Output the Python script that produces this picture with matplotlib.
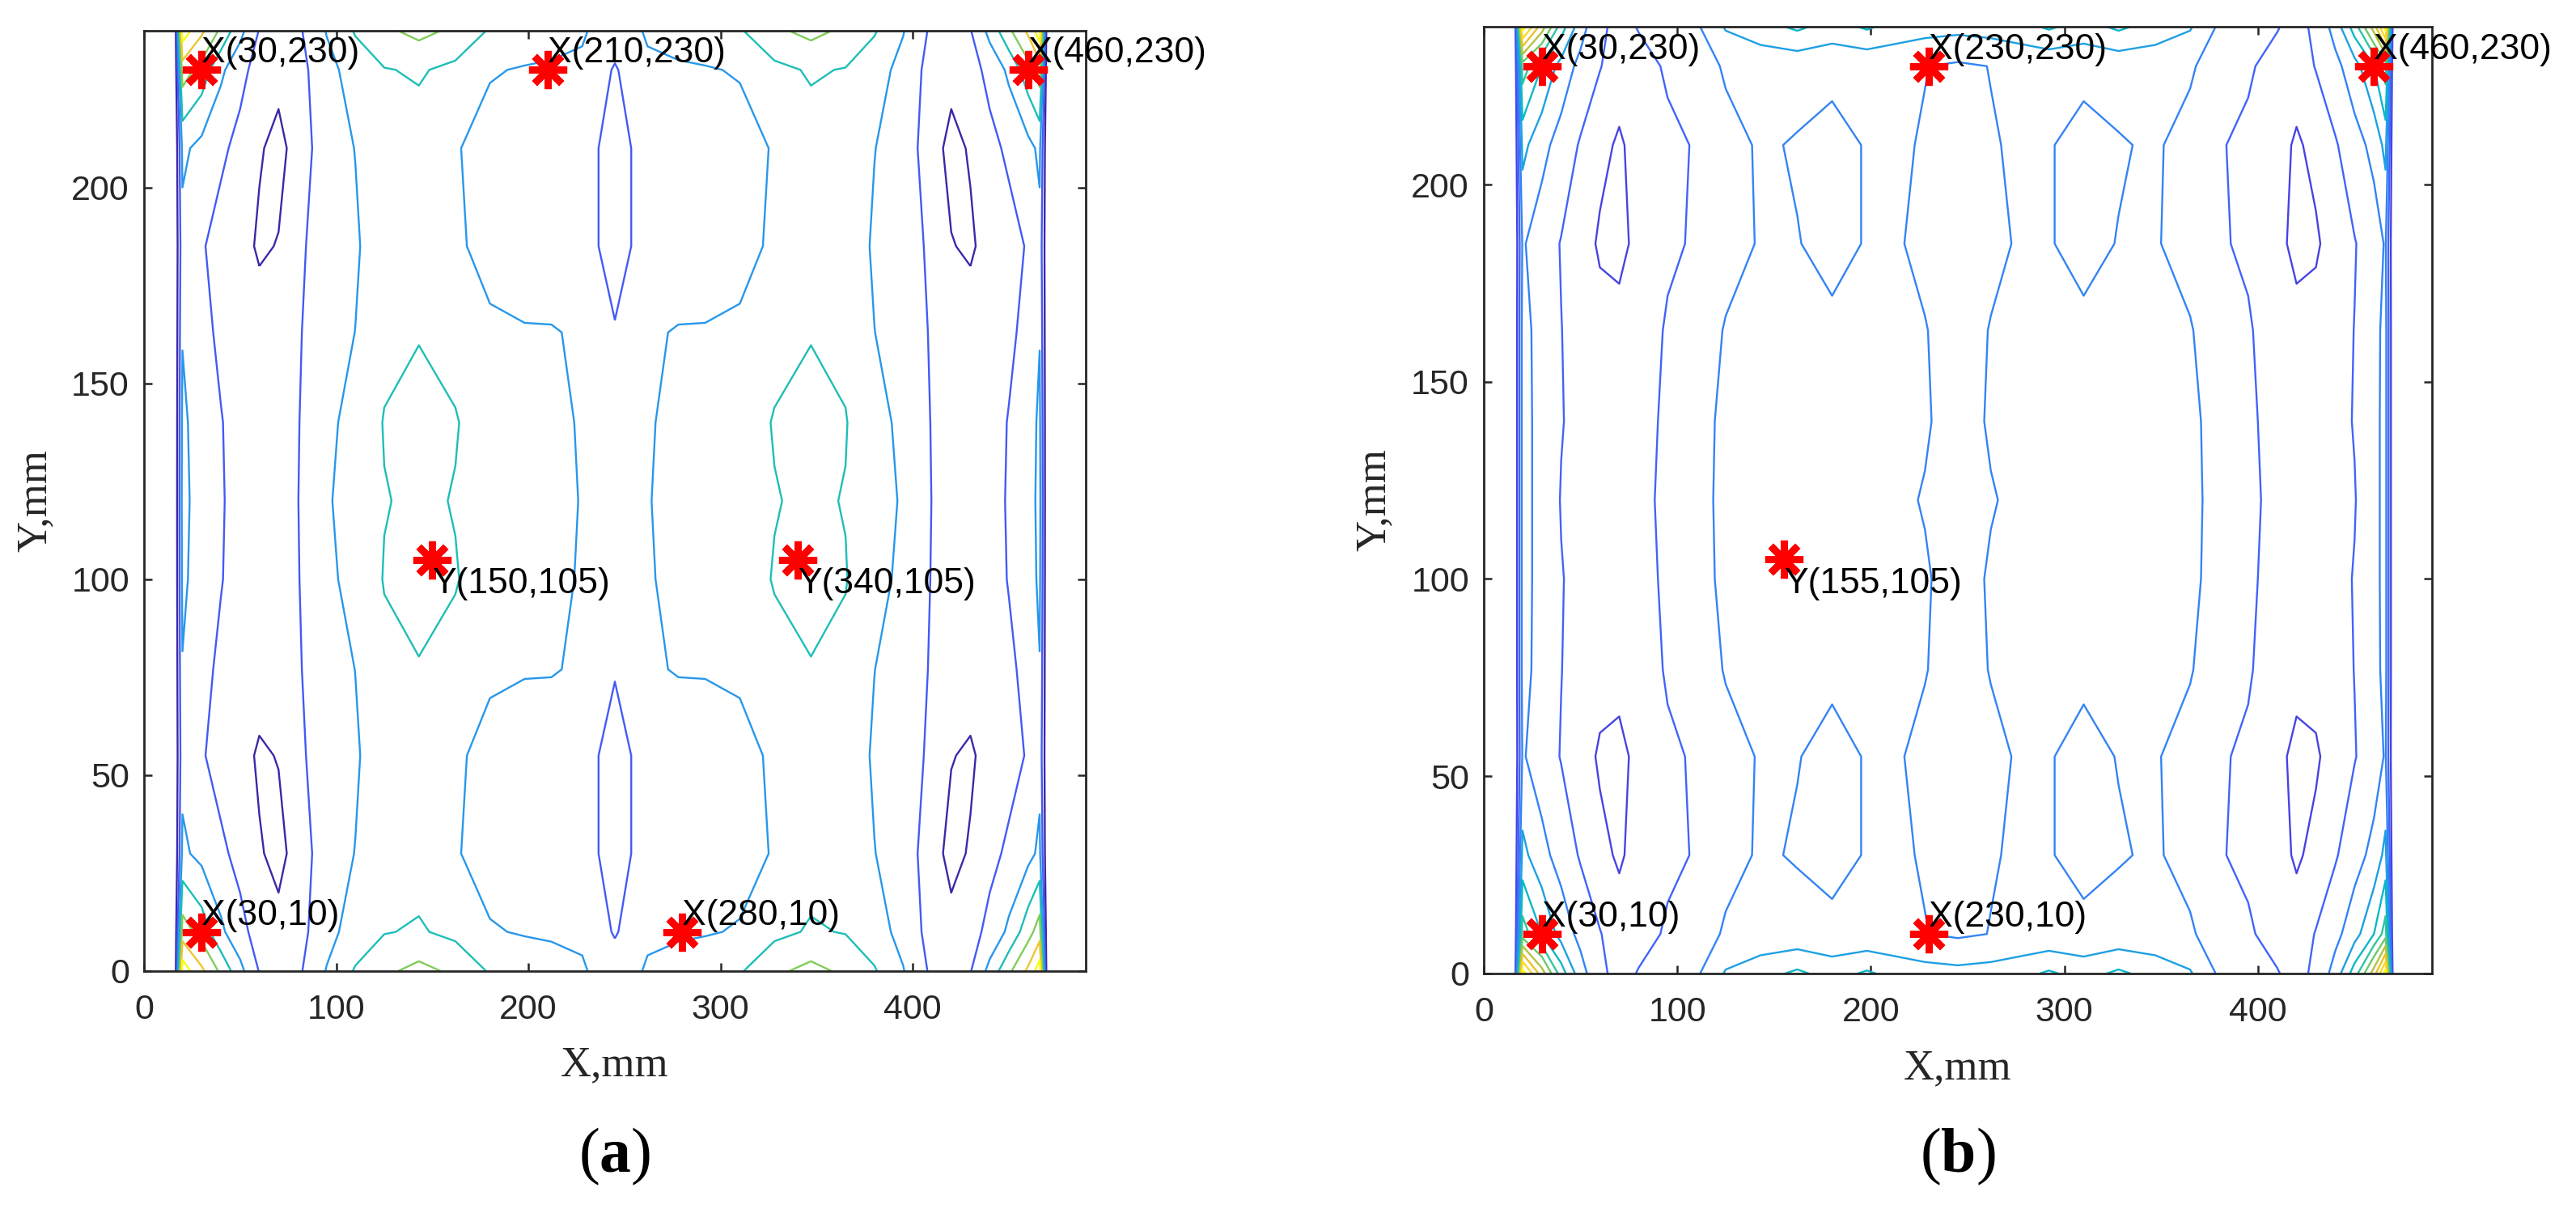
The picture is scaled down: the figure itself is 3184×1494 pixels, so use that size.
import numpy as np
import matplotlib
matplotlib.use('Agg')
import matplotlib.pyplot as plt
from matplotlib.colors import LinearSegmentedColormap

# grid nodes in mm (left half + right half, bottom half + top half)
x_left = [16, 20, 30, 40, 50, 60, 70, 80, 95, 110, 125, 143, 162, 180, 198, 212, 228, 245]
x_right = [262, 278, 292, 310, 328, 347, 365, 380, 395, 410, 420, 430, 440, 450, 460, 466, 470]
y_low = [0, 10, 30, 55, 77, 100, 120]
y_high = [140, 163, 185, 210, 230, 240]

# field values, one quarter each (rows = y_low, cols = x_left)
za_quarter = [
    [0, 7.6, 6.2, 4.8, 3.3, 1.95, 1.6, 1.8, 3.05, 4.1, 4.8, 5.3, 4.8, 3.9, 3.4, 3.3, 3.1, 2.5],
    [0, 5.5, 4.6, 3.2, 2.3, 1.6, 1.3, 1.6, 2.7, 3.4, 3.95, 4.1, 3.75, 3.05, 2.95, 2.9, 2.85, 1.9],
    [0, 3.2, 2.7, 2.2, 1.7, 1.1, 0.7, 1.4, 2.6, 3.02, 3.5, 3.6, 3.05, 2.75, 2.6, 2.5, 2.3, 1.7],
    [0, 2.7, 2.1, 1.6, 1.4, 0.85, 1.05, 1.8, 2.5, 2.9, 3.5, 3.7, 3.1, 2.8, 2.6, 2.5, 2.3, 1.7],
    [0, 2.95, 2.3, 1.8, 1.5, 1.5, 1.5, 1.9, 2.6, 3.01, 3.75, 3.95, 3.75, 3.1, 3.05, 3.05, 2.9, 2.05],
    [0, 3.2, 2.5, 2.05, 1.6, 1.5, 1.6, 1.95, 2.8, 3.3, 4.05, 4.3, 4.05, 3.6, 3.35, 3.2, 2.93, 2.3],
    [0, 3.3, 2.5, 2.1, 1.6, 1.5, 1.7, 1.98, 2.9, 3.4, 3.96, 4.15, 3.96, 3.6, 3.35, 3.2, 2.97, 2.4],
]
zb_quarter = [
    [0, 11.5, 8.5, 5.5, 3.4, 2.2, 1.7, 2.05, 2.5, 2.85, 4.1, 4.6, 5.2, 4.6, 5.15, 4.7, 4.4, 4.3],
    [0, 6.5, 5.0, 3.6, 2.7, 2.05, 1.5, 1.7, 2.1, 2.6, 3.1, 3.3, 3.25, 3.2, 3.15, 3.12, 3.02, 2.85],
    [0, 4.3, 3.3, 2.6, 1.9, 1.3, 0.85, 1.4, 1.85, 2.05, 2.75, 3.08, 2.95, 2.75, 3.05, 3.1, 2.95, 2.7],
    [0, 3.1, 2.5, 1.95, 1.5, 0.85, 0.7, 1.3, 1.85, 2.1, 2.75, 3.05, 3.02, 2.85, 3.03, 3.05, 2.9, 2.75],
    [0, 3.3, 2.65, 2.02, 1.6, 1.4, 1.35, 1.5, 2.1, 2.6, 3.05, 3.25, 3.2, 3.1, 3.15, 3.1, 3.02, 2.8],
    [0, 3.3, 2.7, 2.05, 1.7, 1.55, 1.55, 1.7, 2.15, 2.75, 3.15, 3.3, 3.3, 3.3, 3.25, 3.15, 3.05, 2.8],
    [0, 3.3, 2.7, 1.95, 1.7, 1.55, 1.55, 1.75, 2.2, 2.8, 3.15, 3.3, 3.3, 3.3, 3.25, 3.1, 2.97, 2.85],
]

levels_a = [1, 2, 3, 4, 5, 6, 7]
levels_b = [1, 2, 3, 4, 5, 6, 7, 8, 9, 10, 11]

# measuring points
pa_x = [30, 210, 460, 30, 280, 150, 340]
pa_y = [230, 230, 230, 10, 10, 105, 105]
pa_lbl = ['X(30,230)', 'X(210,230)', 'X(460,230)', 'X(30,10)', 'X(280,10)', 'Y(150,105)', 'Y(340,105)']
pb_x = [30, 230, 460, 30, 230, 155]
pb_y = [230, 230, 230, 10, 10, 105]
pb_lbl = ['X(30,230)', 'X(230,230)', 'X(460,230)', 'X(30,10)', 'X(230,10)', 'Y(155,105)']

# parula-like colormap
parula10 = [(0.2422, 0.1504, 0.6603), (0.2803, 0.2782, 0.9221), (0.2440, 0.4358, 0.9988),
            (0.1540, 0.5902, 0.9218), (0.0297, 0.7082, 0.8163), (0.1938, 0.7758, 0.6251),
            (0.5044, 0.7993, 0.3480), (0.8634, 0.7406, 0.1596), (0.9892, 0.8136, 0.1885),
            (0.9769, 0.9839, 0.0805)]
parula = LinearSegmentedColormap.from_list('parula', parula10)
colors_a = [parula((k - 1) / 6) for k in levels_a]
colors_b = [parula(0.1 + 0.09 * (k - 1)) for k in levels_b]

plt.rcParams['font.family'] = 'Liberation Sans'
plt.rcParams['mathtext.fontset'] = 'custom'
plt.rcParams['mathtext.rm'] = 'Liberation Serif'
plt.rcParams['mathtext.bf'] = 'Liberation Serif:bold'


def full_grid(q):
    # mirror the quarter in x and in y
    q = np.array(q, dtype=float)
    q = np.hstack([q, q[:, -2::-1]])
    q = np.vstack([q, q[-2::-1, :]])
    return q


X, Y = np.meshgrid(x_left + x_right, y_low + y_high)
axcol = (0.15, 0.15, 0.15)

fig = plt.figure(figsize=(15.92, 7.47), dpi=200)
ax_a = fig.add_axes([0.0559, 0.1968, 0.3656, 0.7778])
ax_b = fig.add_axes([0.5760, 0.1948, 0.3681, 0.7831])

panels = [(ax_a, za_quarter, levels_a, colors_a, pa_x, pa_y, pa_lbl),
          (ax_b, zb_quarter, levels_b, colors_b, pb_x, pb_y, pb_lbl)]

for ax, zq, lev, cols, px, py, lbls in panels:
    Z = full_grid(zq)
    ax.contour(X, Y, Z, levels=lev, colors=cols, linewidths=0.85)
    ax.plot(px, py, linestyle='none', marker=(8, 2, 0), ms=17, mew=3.2,
            color='#ff0000', zorder=5)
    for x, y, s in zip(px, py, lbls):
        if s.startswith('X'):
            ax.text(x, y, s, ha='left', va='bottom', fontsize=16, color='black', zorder=6)
        else:
            ax.text(x, y - 2, s, ha='left', va='top', fontsize=16, color='black', zorder=6)

    ax.set_xlim(0, 490)
    ax.set_ylim(0, 240)
    ax.set_xticks([0, 100, 200, 300, 400])
    ax.set_yticks([0, 50, 100, 150, 200])
    ax.tick_params(direction='in', top=True, right=True, length=3.6, width=0.9,
                   colors=axcol, labelsize=15.5)
    ax.tick_params(axis='x', pad=10)
    ax.tick_params(axis='y', pad=6.5)
    for sp in ax.spines.values():
        sp.set_linewidth(1.0)
        sp.set_color(axcol)

    ax.set_xlabel('X,mm', fontfamily='Liberation Serif', fontsize=19, color=axcol)
    ax.set_ylabel('Y,mm', fontfamily='Liberation Serif', fontsize=19, color=axcol)
    ax.xaxis.label.set_va('center')
    ax.yaxis.label.set_va('center')
    ax.xaxis.set_label_coords(0.5, -0.10)
    ax.yaxis.set_label_coords(-0.115, 0.5)

fig.text(0.2387, 0.043, r'($\mathbf{a}$)', fontfamily='Liberation Serif', fontsize=28,
         ha='center', va='center')
fig.text(0.760, 0.043, r'($\mathbf{b}$)', fontfamily='Liberation Serif', fontsize=28,
         ha='center', va='center')

fig.savefig('out.png', dpi=200)
